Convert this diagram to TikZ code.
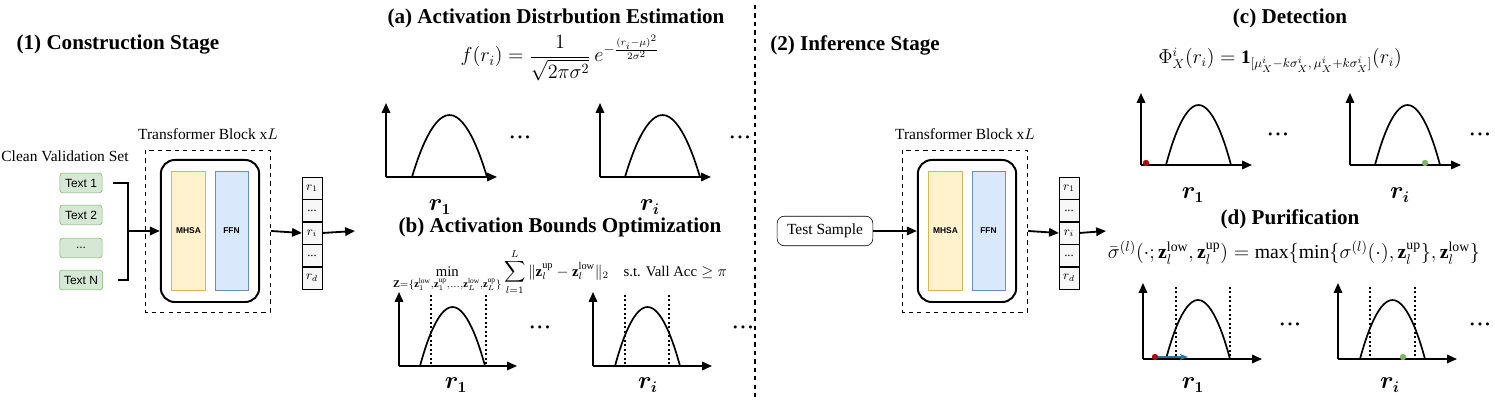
\documentclass[tikz,border=0pt]{standalone}
\usepackage{amsmath,amssymb,bm}
\usepackage{fontspec}
\setmainfont{Liberation Serif}
\setsansfont{Liberation Sans}
\usetikzlibrary{arrows.meta,positioning}
\definecolor{txtgreen}{HTML}{D5E8D4}
\definecolor{txtgreenb}{HTML}{82B366}
\definecolor{mhsafill}{HTML}{FFF2CC}
\definecolor{mhsabord}{HTML}{D6B656}
\definecolor{ffnfill}{HTML}{DAE8FC}
\definecolor{ffnbord}{HTML}{6C8EBF}
\definecolor{dotred}{HTML}{A50F15}
\definecolor{dotgreen}{HTML}{82B366}
\definecolor{pushblue}{HTML}{23799C}
\tikzset{
  stage/.style={font=\bfseries\fontsize{15}{17}\selectfont},
  part/.style={font=\bfseries\fontsize{15}{17}\selectfont},
  txt/.style={draw=txtgreenb,fill=txtgreen,rounded corners=2pt,minimum width=30pt,minimum height=14pt,font=\sffamily\fontsize{8.5}{9}\selectfont},
  layer/.style={minimum width=23.5pt,minimum height=85pt,font=\sffamily\bfseries\fontsize{6}{7}\selectfont},
  cell/.style={draw,fill=black!3,minimum width=14pt,minimum height=15.6pt,inner sep=0pt,font=\fontsize{9}{10}\selectfont},
  flow/.style={-{Triangle[length=7pt,width=6pt]},line width=1.3pt},
  axis/.style={-{Triangle[length=7pt,width=6pt]},line width=1.2pt},
  bound/.style={dotted,line width=1.2pt},
  dots/.style={font=\fontsize{15}{16}\selectfont},
  lab/.style={font=\fontsize{16}{17}\selectfont},
}
% axes, curve, label
\newcommand{\distplot}[8]{% name, ox, oy, xend, ytop, c1, c2, apex
  \coordinate (#1o) at (#2,#3);
  \coordinate (#1x) at (#4,#3);
  \coordinate (#1y) at (#2,#5);
  \draw[axis] (#1o) -- (#1x);
  \draw[axis] (#1o) -- (#1y);
  \draw[line width=1.2pt] (#6,#3) parabola bend ({(#6+#7)/2},#8) (#7,#3);
}
\newcommand{\moredots}{$\bm{\cdot\!\cdot\!\cdot}$}
\begin{document}
\begin{tikzpicture}[x=0.025cm,y=-0.025cm]
  \useasboundingbox (0,0) rectangle (1495,405);
  % ---------- construction stage ----------
  \node[stage] (cons) at (118,45) {(1) Construction Stage};
  \node[font=\fontsize{11}{12}\selectfont] (clean) at (65,156) {Clean Validation Set};
  \node[txt] (t1) at (81,183) {Text 1};
  \node[txt] (t2) at (81,215) {Text 2};
  \node[txt] (t3) at (81,248) {...};
  \node[txt] (t4) at (81,280) {Text N};
  \coordinate (jn) at (128,231);
  \draw[line width=1.3pt] (t1.east) ++(11,0) -| (jn) |- ([xshift=11]t4.east);
  \draw[dashed] (145,150) rectangle (270,312);
  \node[font=\fontsize{11}{12}\selectfont] (tb1) at (208,134) {Transformer Block x$L$};
  \node[draw,line width=1.4pt,rounded corners=10pt,minimum width=70pt,minimum height=101pt] (blk1) at (210,231) {};
  \node[layer,draw=mhsabord,fill=mhsafill] (mh1) at (188.5,231) {MHSA};
  \node[layer,draw=ffnbord,fill=ffnfill] (ff1) at (231.5,231) {FFN};
  \draw[flow] (jn) -- (blk1.west);
  \node[cell] (a1) at (312,188) {$r_1$};
  \node[cell,below=0pt of a1] (a2) {...};
  \node[cell,below=0pt of a2] (a3) {$r_i$};
  \node[cell,below=0pt of a3] (a4) {...};
  \node[cell,below=0pt of a4] (a5) {$r_d$};
  \draw[flow] (blk1.east) ++(11,0) -- (a3.west);
  \coordinate (out1) at (355,231);
  \draw[flow] (a3.east) -- (out1);
  % (a)
  \node[part] (pa) at (556,18) {(a) Activation Distrbution Estimation};
  \node[font=\fontsize{14}{16}\selectfont] (fa) at (560,58) {$f(r_i)=\dfrac{1}{\sqrt{2\pi\sigma^2}}\,e^{-\frac{(r_i-\mu)^2}{2\sigma^2}}$};
  \distplot{pa1}{386}{177}{497}{103}{412}{487}{115}
  \distplot{pa2}{600}{177}{711}{103}{625}{700}{115}
  \node[dots] (da1) at (520,138) {\moredots};
  \node[dots] (da2) at (740,138) {\moredots};
  \node[lab] (la1) at (440,207) {$\bm{r_1}$};
  \node[lab] (la2) at (650,207) {$\bm{r_i}$};
  % (b)
  \node[part] (pb) at (560,227) {(b) Activation Bounds Optimization};
  \node[font=\fontsize{10.5}{12}\selectfont] (fb) at (560,272) {$\displaystyle\min_{\mathbf{Z}=\{\mathbf{z}_1^{\mathrm{low}},\mathbf{z}_1^{\mathrm{up}},\ldots,\mathbf{z}_L^{\mathrm{low}},\mathbf{z}_L^{\mathrm{up}}\}}\sum_{l=1}^{L}\|\mathbf{z}_l^{\mathrm{up}}-\mathbf{z}_l^{\mathrm{low}}\|_2\quad\text{s.t. Vall Acc}\geq\pi$};
  \distplot{pb1}{399}{366}{517}{292}{420}{485}{307}
  \distplot{pb2}{593}{366}{712}{292}{615}{680}{307}
  \foreach \x in {431,486} { \draw[bound] (\x,295) -- (\x,366); }
  \foreach \x in {625,669} { \draw[bound] (\x,295) -- (\x,366); }
  \node[dots] (db1) at (540,328) {\moredots};
  \node[dots] (db2) at (743,328) {\moredots};
  \node[lab] (lb1) at (456,385) {$\bm{r_1}$};
  \node[lab] (lb2) at (648,385) {$\bm{r_i}$};
  % separator
  \draw[dashed,line width=1pt] (755,5) -- (755,400);
  % ---------- inference stage ----------
  \node[stage] (inf) at (855,45) {(2) Inference Stage};
  \node[draw,rounded corners=5pt,minimum width=68pt,minimum height=21pt,font=\fontsize{11}{12}\selectfont] (ts) at (825,231) {Test Sample};
  \draw[dashed] (902,150) rectangle (1027,312);
  \node[font=\fontsize{11}{12}\selectfont] (tb2) at (965,134) {Transformer Block x$L$};
  \node[draw,line width=1.4pt,rounded corners=10pt,minimum width=70pt,minimum height=101pt] (blk2) at (967,231) {};
  \node[layer,draw=mhsabord,fill=mhsafill] (mh2) at (945.5,231) {MHSA};
  \node[layer,draw=ffnbord,fill=ffnfill] (ff2) at (988.5,231) {FFN};
  \draw[flow] (ts.east) -- (blk2.west);
  \node[cell] (b1) at (1069,188) {$r_1$};
  \node[cell,below=0pt of b1] (b2) {...};
  \node[cell,below=0pt of b2] (b3) {$r_i$};
  \node[cell,below=0pt of b3] (b4) {...};
  \node[cell,below=0pt of b4] (b5) {$r_d$};
  \draw[flow] (blk2.east) ++(11,0) -- (b3.west);
  \coordinate (out2) at (1106,231);
  \draw[flow] (b3.east) -- (out2);
  % (c)
  \node[part] (pc) at (1290,18) {(c) Detection};
  \node[font=\fontsize{13.5}{15}\selectfont] (fc) at (1280,60) {$\Phi_X^i(r_i)=\mathbf{1}_{[\mu_X^i-k\sigma_X^i,\,\mu_X^i+k\sigma_X^i]}(r_i)$};
  \distplot{pc1}{1141}{165}{1252}{93}{1166}{1231}{105}
  \distplot{pc2}{1350}{165}{1461}{93}{1375}{1440}{105}
  \fill[dotred] (1146,163) circle (3.2);
  \fill[dotgreen] (1425,163) circle (3.2);
  \node[dots] (dc1) at (1278,135) {\moredots};
  \node[dots] (dc2) at (1480,135) {\moredots};
  \node[lab] (lc1) at (1193,195) {$\bm{r_1}$};
  \node[lab] (lc2) at (1400,195) {$\bm{r_i}$};
  % (d)
  \node[part] (pd) at (1290,219) {(d) Purification};
  \node[font=\fontsize{14}{16}\selectfont] (fd) at (1294,253) {$\bar{\sigma}^{(l)}(\cdot;\mathbf{z}_l^{\mathrm{low}},\mathbf{z}_l^{\mathrm{up}})=\max\{\min\{\sigma^{(l)}(\cdot),\mathbf{z}_l^{\mathrm{up}}\},\mathbf{z}_l^{\mathrm{low}}\}$};
  \distplot{pd1}{1143}{359}{1262}{283}{1166}{1230}{300}
  \distplot{pd2}{1338}{359}{1457}{283}{1360}{1425}{300}
  \foreach \x in {1176,1230} { \draw[bound] (\x,287) -- (\x,359); }
  \foreach \x in {1370,1415} { \draw[bound] (\x,287) -- (\x,359); }
  \coordinate (pushs) at (1155,357);
  \coordinate (pushe) at (1188,357);
  \draw[pushblue,line width=1pt,-{Stealth[length=6pt]}] (pushs) -- (pushe);
  \fill[dotred] (pushs) circle (3.2);
  \fill[dotgreen] (1403,357) circle (3.2);
  \node[dots] (dd1) at (1290,325) {\moredots};
  \node[dots] (dd2) at (1480,325) {\moredots};
  \node[lab] (ld1) at (1193,385) {$\bm{r_1}$};
  \node[lab] (ld2) at (1390,385) {$\bm{r_i}$};
\end{tikzpicture}
\end{document}
